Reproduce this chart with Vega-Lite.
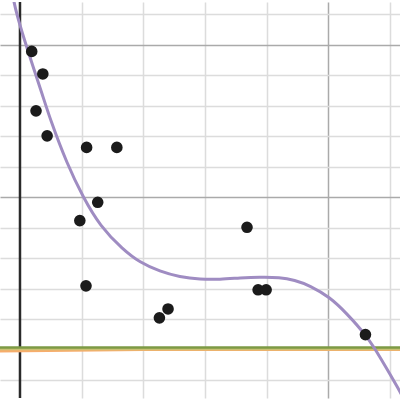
{
  "$schema": "https://vega.github.io/schema/vega-lite/v6.json",
  "width": 400,
  "height": 400,
  "autosize": {"type": "fit", "contains": "padding"},
  "padding": 0,
  "background": "white",
  "config": {"view": {"stroke": null}},
  "datasets": {
    "pts": [
      {"x": 0.19, "y": 9.78}, {"x": 0.37, "y": 9.04}, {"x": 0.26, "y": 7.83},
      {"x": 0.44, "y": 7.01}, {"x": 1.08, "y": 6.63}, {"x": 1.57, "y": 6.63},
      {"x": 1.26, "y": 4.83}, {"x": 0.97, "y": 4.23}, {"x": 1.07, "y": 2.09},
      {"x": 2.26, "y": 1.04}, {"x": 2.40, "y": 1.33}, {"x": 3.68, "y": 4.01},
      {"x": 3.86, "y": 1.96}, {"x": 3.99, "y": 1.96}, {"x": 5.60, "y": 0.49}
    ],
    "curve": [
      {"x": -0.16, "y": 12.3}, {"x": -0.11, "y": 11.4}, {"x": 0.03, "y": 10.42},
      {"x": 0.22, "y": 9.23}, {"x": 0.36, "y": 8.38}, {"x": 0.49, "y": 7.55},
      {"x": 0.76, "y": 6.10}, {"x": 1.02, "y": 5.01}, {"x": 1.30, "y": 4.04},
      {"x": 1.67, "y": 3.28}, {"x": 1.94, "y": 2.86}, {"x": 2.27, "y": 2.56},
      {"x": 2.59, "y": 2.38}, {"x": 2.92, "y": 2.30}, {"x": 3.24, "y": 2.30},
      {"x": 3.57, "y": 2.35}, {"x": 3.89, "y": 2.38}, {"x": 4.21, "y": 2.37},
      {"x": 4.45, "y": 2.28}, {"x": 4.70, "y": 2.10}, {"x": 5.02, "y": 1.72},
      {"x": 5.29, "y": 1.20}, {"x": 5.62, "y": 0.45}, {"x": 5.83, "y": -0.22},
      {"x": 6.16, "y": -1.37}, {"x": 6.26, "y": -1.78}
    ],
    "flat": [
      {"series": "orange", "x": -0.35, "y": -0.06}, {"series": "orange", "x": 2.0, "y": -0.01},
      {"series": "orange", "x": 6.2, "y": -0.01},
      {"series": "yellow", "x": -0.35, "y": 0.02}, {"series": "yellow", "x": 6.2, "y": 0.02},
      {"series": "green", "x": -0.35, "y": 0.07}, {"series": "green", "x": 6.2, "y": 0.07}
    ],
    "axis0": [{"x": 0}]
  },
  "encoding": {
    "x": {
      "field": "x", "type": "quantitative",
      "scale": {"domain": [-0.324, 6.16], "nice": false, "zero": false},
      "axis": {
        "title": null, "labels": false, "ticks": false, "domain": false,
        "values": [1, 2, 3, 4, 5, 6],
        "gridWidth": 1.5,
        "gridColor": {"condition": {"test": "datum.value === 5", "value": "#aaaaaa"}, "value": "#dcdcdc"}
      }
    },
    "y": {
      "field": "y", "type": "quantitative",
      "scale": {"domain": [-1.59, 11.4], "nice": false, "zero": false},
      "axis": {
        "title": null, "labels": false, "ticks": false, "domain": false,
        "values": [-1, 1, 2, 3, 4, 5, 6, 7, 8, 9, 10, 11],
        "gridWidth": 1.5,
        "gridColor": {"condition": {"test": "datum.value % 5 === 0", "value": "#aaaaaa"}, "value": "#dcdcdc"}
      }
    }
  },
  "layer": [
    {
      "data": {"name": "axis0"},
      "mark": {"type": "rule", "color": "#2a2a2a", "strokeWidth": 2.5},
      "encoding": {"x": {"field": "x", "type": "quantitative"}, "y": null}
    },
    {
      "data": {"name": "flat"},
      "mark": {"type": "line", "strokeWidth": 2.5, "clip": true},
      "encoding": {
        "detail": {"field": "series"},
        "color": {
          "field": "series", "type": "nominal", "legend": null,
          "scale": {"domain": ["orange", "yellow", "green"], "range": ["#f7ad6c", "#c9c172", "#7c9a45"]}
        },
        "order": {"field": "x", "type": "quantitative"}
      }
    },
    {
      "data": {"name": "curve"},
      "mark": {"type": "line", "color": "#9f8cc2", "strokeWidth": 3, "clip": true, "interpolate": "basis"}
    },
    {
      "data": {"name": "pts"},
      "mark": {"type": "circle", "color": "#1b1b1b", "opacity": 1, "size": 135}
    }
  ]
}
